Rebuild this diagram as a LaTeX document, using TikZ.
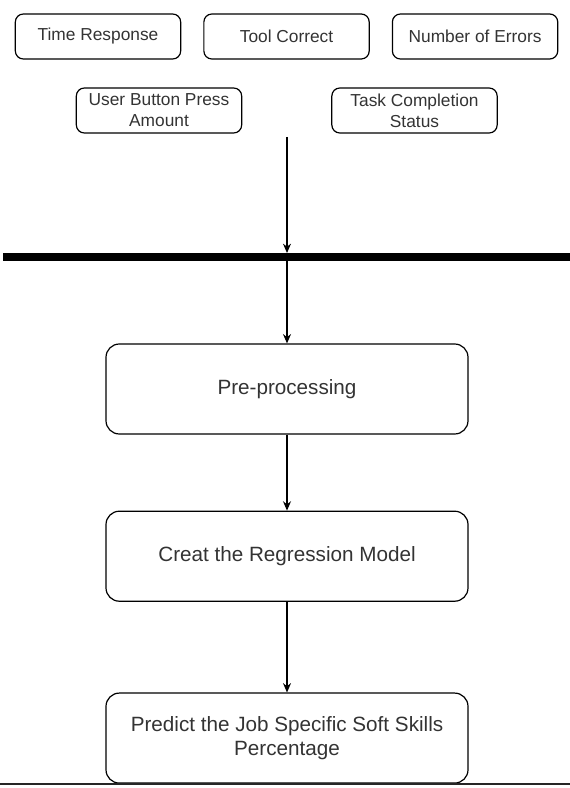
\documentclass[tikz,border=0pt]{standalone}
\usepackage{xcolor}
\usepackage{fontspec}
\setmainfont{Liberation Sans}
\usetikzlibrary{arrows.meta, positioning}
\definecolor{labelgray}{RGB}{51,51,51}

\begin{document}
\begin{tikzpicture}[x=0.75pt, y=-0.75pt,
    inbox/.style={draw, rounded corners=6pt, line width=0.9pt, minimum width=124pt, minimum height=33.75pt,
        inner sep=0pt, align=center, text=labelgray, font=\fontsize{13}{15.6}\selectfont},
    stepbox/.style={draw, rounded corners=10pt, line width=0.9pt, minimum width=271.5pt, minimum height=67.5pt,
        inner sep=0pt, align=center, text=labelgray, font=\fontsize{15.5}{18.6}\selectfont},
    flow/.style={-{Stealth[length=7pt, width=6pt]}, line width=0.8pt}]
\useasboundingbox (0,0) rectangle (570,788);

% Input features
\node[inbox] (time) at (98,36.5) {Time Response};
\node[inbox, right=16.5pt of time] (tool) {Tool Correct};
\node[inbox, right=16.5pt of tool] (errors) {Number of Errors};
\node[inbox] (button) at (159,110.5) {User Button Press\\Amount};
\node[inbox] (task) at (414.5,110.5) {Task Completion\\Status};

% Separator
\coordinate (barL) at (3,257);
\coordinate (barR) at (570,257);
\draw[line width=6pt] (barL) -- (barR);
\coordinate (src) at (287,137);
\coordinate (barIn) at (287,253);
\coordinate (barOut) at (287,261);

% Steps
\node[stepbox] (pre) at (287,389) {Pre-processing};
\node[stepbox, below=57pt of pre] (model) {Creat the Regression Model};
\node[stepbox, below=68pt of model] (predict) {Predict the Job Specific Soft Skills\\Percentage};

% Arrows
\draw[flow] (src) -- (barIn);
\draw[flow] (barOut) -- (pre);
\draw[flow] (pre) -- (model);
\draw[flow] (model) -- (predict);

% Base line
\coordinate (baseL) at (0,784);
\coordinate (baseR) at (570,784);
\draw[line width=1.5pt, black!85] (baseL) -- (baseR);

\end{tikzpicture}
\end{document}
